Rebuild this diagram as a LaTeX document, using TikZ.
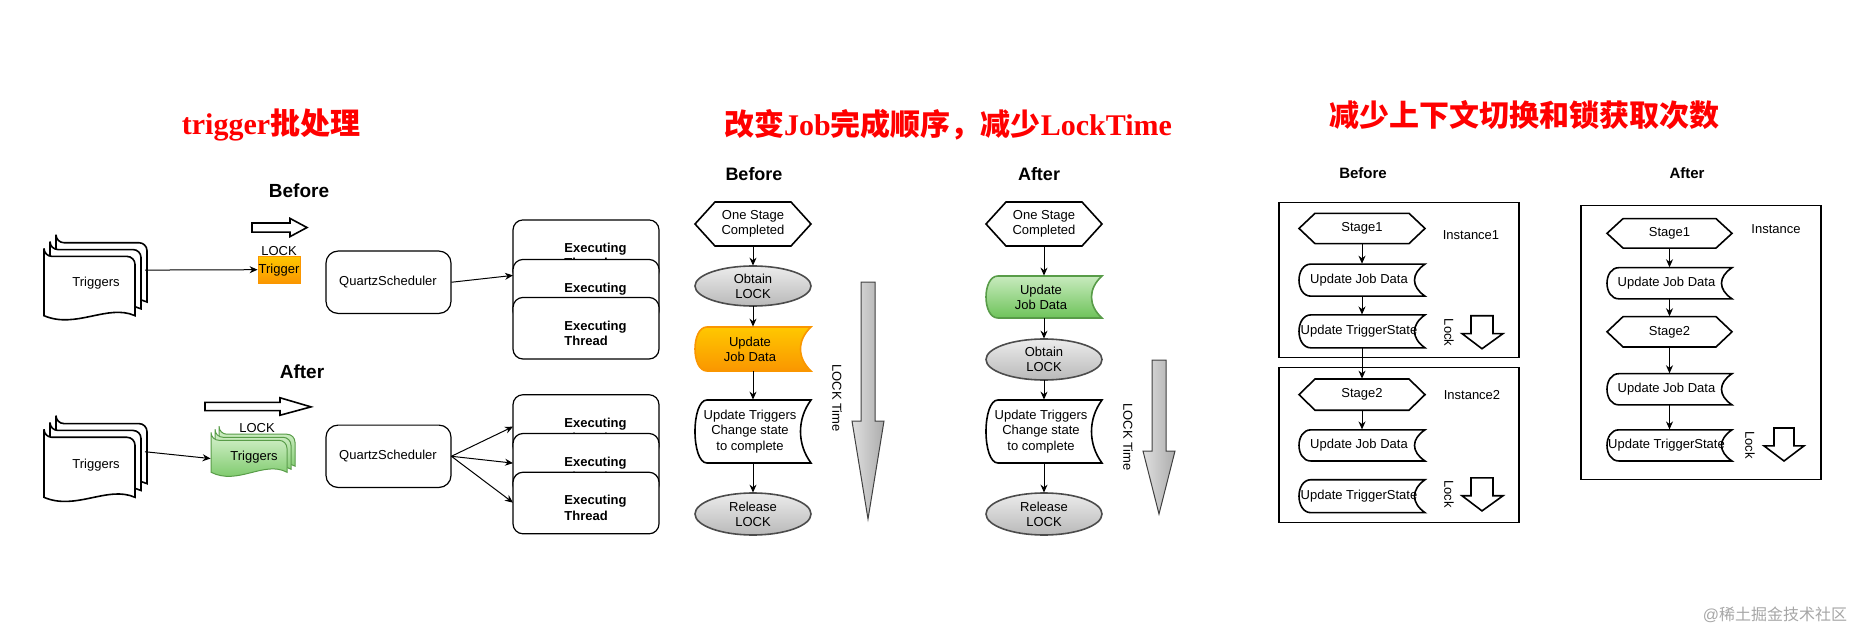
\documentclass[tikz,border=0pt]{standalone}
\usepackage{fontspec}
\setmainfont{Liberation Sans}
\newfontfamily\cjk{Noto Sans CJK SC}
\newfontfamily\ser{Liberation Serif}
\usetikzlibrary{arrows.meta}
\definecolor{orA}{RGB}{255,200,0}
\definecolor{orB}{RGB}{250,150,0}
\definecolor{grA}{RGB}{200,235,190}
\definecolor{grB}{RGB}{110,195,90}
\tikzset{
 lbl/.style={font=\fontsize{6.5}{7.6}\selectfont,align=center,inner sep=0},
 bt/.style={font=\fontsize{6.5}{7.6}\selectfont\bfseries,align=left,inner sep=0},
 conn/.style={-{Stealth[length=4pt,width=3.5pt]},line width=0.5pt},
 shp/.style={line width=0.8pt},
 grayfill/.style={top color=gray!15,bottom color=gray!55,draw=gray!60!black},
 orfill/.style={top color=orA,bottom color=orB,draw=orB},
 grfill/.style={top color=grA,bottom color=grB,draw=grB!80!black},
 hol/.style={draw,line width=0.8pt,fill=white},
 big/.style={left color=gray!25,right color=gray!65,draw=gray!50!black,line width=0.5pt},
 redt/.style={text=red,font=\fontsize{15}{17}\selectfont\bfseries,inner sep=0},
}
\def\yf{1}
% box node (invisible) for connectors
\newcommand\bx[5]{\node[minimum width={(#4-#2)*0.5pt},minimum height={(#5-#3)*\yf*0.5pt},inner sep=0] (#1) at ({(#2+#4)/2},{(#3+#5)/2}) {};}
% hexagon: name x1 y1 x2 y2 d text
\newcommand\hexa[7]{\draw[shp,fill=white] (#2,{(#3+#5)/2}) -- ({#2+#6},#3) -- ({#4-#6},#3) -- (#4,{(#3+#5)/2}) -- ({#4-#6},#5) -- ({#2+#6},#5) -- cycle;
 \bx{#1}{#2}{#3}{#4}{#5}\node[lbl] at (#1) {#7};}
% stored data: name x1 y1 x2 y2 style text
\newcommand\sdata[7]{\draw[shp,#6] ({#2+12},#3) -- (#4,#3) .. controls ({#4-14},{#3+(#5-#3)*0.3}) and ({#4-14},{#5-(#5-#3)*0.3}) .. (#4,#5) -- ({#2+12},#5) .. controls ({#2-4},#5) and ({#2-4},#3) .. ({#2+12},#3) -- cycle;
 \bx{#1}{#2}{#3}{#4}{#5}\node[lbl] at ({(#2+#4)/2-3},{(#3+#5)/2}) {#7};}
% ellipse
\newcommand\elp[6]{\draw[shp,#6] ({(#2+#4)/2},{(#3+#5)/2}) ellipse [x radius={(#4-#2)/2},y radius={(#5-#3)/2}];
 \bx{#1}{#2}{#3}{#4}{#5}}
% document stack
\newcommand\docpg[5]{\draw[shp,fill=white,#5] (#1,{#4-6}) -- (#1,{#2}) [rounded corners=4] -- (#1,#2) -- (#3,#2) [sharp corners] -- (#3,{#4-6}) .. controls ({#1+0.7*(#3-#1)},{#4-22}) and ({#1+0.35*(#3-#1)},{#4+12}) .. (#1,{#4-6}) -- cycle;}
\newcommand\exb[3]{\draw[line width=0.6pt,fill=white,rounded corners=5] (513,#2) rectangle (659,{#2+81}); \node[minimum width=73pt,minimum height={40.5pt*\yf},inner sep=0] (#1) at (586,{#2+40.5}) {};
 \node[bt,anchor=north west] at (564,{#2+30}) {#3};}
\begin{document}
\begin{tikzpicture}[x=0.5pt,y=-0.5pt]
\useasboundingbox (0,0) rectangle (1864,642);
% ---------- titles
\node[redt] at (271,125) {{\ser trigger}{\cjk 批处理}};
\node[redt] at (948,125) {{\cjk 改变}{\ser Job}{\cjk 完成顺序，减少}{\ser LockTime}};
\node[redt] at (1524,115) {\cjk 减少上下文切换和锁获取次数};
\node[text=gray!70,font=\fontsize{8}{9}\selectfont,inner sep=0] at (1775,615) {@{\cjk 稀土掘金技术社区}};
% ---------- part 1
\begin{scope}[y=-0.38pt,yshift=-18pt]
\def\yf{0.76}
\node[font=\fontsize{9.5}{11}\selectfont\bfseries,inner sep=0] at (299,204) {Before};
\draw[hol] (252,246) -- (290,246) -- (290,240) -- (307,252) -- (290,264) -- (290,258) -- (252,258) -- cycle;
\docpg{56}{272}{147}{356}{}
\docpg{50}{281}{141}{365}{}
\docpg{44}{290}{135}{374}{}
\node[lbl] at (96,325) {Triggers};
\node[lbl] at (279,283) {LOCK};
\draw[orfill,line width=0.5pt] (258,290) rectangle (300,325);
\bx{tr1}{258}{290}{300}{325}
\node[lbl] at (279,308) {Trigger};
\draw[line width=0.6pt,rounded corners=6] (326,283) rectangle (451,365);
\bx{qs1}{326}{283}{451}{365}
\node[lbl] at (388,324) {QuartzScheduler};
\exb{e1}{242}{Executing\\Thread}
\exb{e2}{294}{Executing\\Thread}
\exb{e3}{344}{Executing\\Thread}
\draw[conn] (145,308) -- (tr1.west);
\draw[conn] (qs1.east) -- (513,315);
\node[font=\fontsize{9.5}{11}\selectfont\bfseries,inner sep=0] at (302,442) {After};
\draw[hol] (205,482) -- (280,482) -- (280,476) -- (311,488) -- (280,499) -- (280,493) -- (205,493) -- cycle;
\docpg{56}{510}{147}{595}{}
\docpg{50}{519}{141}{604}{}
\docpg{44}{528}{135}{613}{}
\node[lbl] at (96,565) {Triggers};
\node[lbl] at (257,516) {LOCK};
\docpg{219}{524}{295}{572}{grfill,line width=0.5pt}
\docpg{215}{528}{291}{576}{grfill,line width=0.5pt}
\docpg{211}{532}{287}{580}{grfill,line width=0.5pt}
\bx{tr2}{211}{532}{287}{580}
\node[lbl] at (254,554) {Triggers};
\draw[line width=0.6pt,rounded corners=6] (326,512) rectangle (451,594);
\bx{qs2}{326}{512}{451}{594}
\node[lbl] at (388,553) {QuartzScheduler};
\exb{f1}{472}{Executing\\Thread}
\exb{f2}{523}{Executing\\Thread}
\exb{f3}{574}{Executing\\Thread}
\draw[conn] (145,547) -- (tr2.west);
\draw[conn] (qs2.east) -- (513,514);
\draw[conn] (qs2.east) -- (513,562);
\draw[conn] (qs2.east) -- (513,614);
\end{scope}
% ---------- part 2
\node[font=\fontsize{9}{11}\selectfont\bfseries,inner sep=0] at (754,174) {Before};
\node[font=\fontsize{9}{11}\selectfont\bfseries,inner sep=0] at (1039,174) {After};
\hexa{a1}{695}{202}{811}{246}{20}{One Stage\\Completed}
\elp{a2}{695}{266}{811}{306}{grayfill}\node[lbl] at (a2) {Obtain\\LOCK};
\sdata{a3}{695}{327}{811}{371}{orfill}{Update\\Job Data}
\sdata{a4}{695}{400}{811}{463}{fill=white}{Update Triggers\\Change state\\to complete}
\elp{a5}{695}{493}{811}{535}{grayfill}\node[lbl] at (a5) {Release\\LOCK};
\foreach \p/\q in {a1/a2,a2/a3,a3/a4,a4/a5} \draw[conn] (\p.south) -- (\q.north);
\draw[big] (861,282) -- (875,282) -- (875,421) -- (884,421) -- (868,519) -- (852,421) -- (861,421) -- cycle;
\node[lbl,rotate=-90] at (837,398) {LOCK Time};
\hexa{b1}{986}{202}{1102}{246}{20}{One Stage\\Completed}
\sdata{b2}{986}{276}{1102}{318}{grfill}{Update\\Job Data}
\elp{b3}{986}{339}{1102}{380}{grayfill}\node[lbl] at (b3) {Obtain\\LOCK};
\sdata{b4}{986}{400}{1102}{463}{fill=white}{Update Triggers\\Change state\\to complete}
\elp{b5}{986}{493}{1102}{535}{grayfill}\node[lbl] at (b5) {Release\\LOCK};
\foreach \p/\q in {b1/b2,b2/b3,b3/b4,b4/b5} \draw[conn] (\p.south) -- (\q.north);
\draw[big] (1152,360) -- (1166,360) -- (1166,451) -- (1175,451) -- (1159,514) -- (1143,451) -- (1152,451) -- cycle;
\node[lbl,rotate=-90] at (1128,437) {LOCK Time};
% ---------- part 3
\begin{scope}[y=-0.4455pt,yshift=-8.2pt]
\def\yf{0.891}
\node[font=\fontsize{7.5}{9}\selectfont\bfseries,inner sep=0] at (1363,176) {Before};
\node[font=\fontsize{7.5}{9}\selectfont\bfseries,inner sep=0] at (1687,176) {After};
\draw[line width=0.6pt] (1279,209) rectangle (1519,383);
\draw[line width=0.6pt] (1279,394) rectangle (1519,568);
\node[lbl] at (1471,245) {Instance1};
\node[lbl] at (1472,425) {Instance2};
\hexa{c1}{1299}{221}{1425}{255}{16}{Stage1}
\sdata{c2}{1299}{278}{1425}{314}{fill=white}{Update Job Data}
\sdata{c3}{1299}{335}{1425}{372}{fill=white}{Update TriggerState}
\hexa{c4}{1299}{407}{1425}{442}{16}{Stage2}
\sdata{c5}{1299}{464}{1425}{499}{fill=white}{Update Job Data}
\sdata{c6}{1299}{520}{1425}{557}{fill=white}{Update TriggerState}
\foreach \p/\q in {c1/c2,c2/c3,c3/c4,c4/c5} \draw[conn] (\p.south) -- (\q.north);
\node[lbl,rotate=-90] at (1449,355) {Lock};
\node[lbl,rotate=-90] at (1449,536) {Lock};
\foreach \y in {336,518} \draw[hol] (1471,\y) -- (1493,\y) -- (1493,{\y+20}) -- (1503,{\y+20}) -- (1482,{\y+37}) -- (1462,{\y+20}) -- (1471,{\y+20}) -- cycle;
\draw[line width=0.6pt] (1581,212) rectangle (1821,520);
\node[lbl] at (1776,239) {Instance};
\hexa{d1}{1607}{227}{1732}{260}{16}{Stage1}
\sdata{d2}{1607}{282}{1732}{317}{fill=white}{Update Job Data}
\hexa{d3}{1607}{337}{1732}{371}{16}{Stage2}
\sdata{d4}{1607}{401}{1732}{436}{fill=white}{Update Job Data}
\sdata{d5}{1607}{464}{1732}{499}{fill=white}{Update TriggerState}
\foreach \p/\q in {d1/d2,d2/d3,d3/d4,d4/d5} \draw[conn] (\p.south) -- (\q.north);
\node[lbl,rotate=-90] at (1750,481) {Lock};
\draw[hol] (1774,462) -- (1794,462) -- (1794,482) -- (1804,482) -- (1784,499) -- (1764,482) -- (1774,482) -- cycle;
\end{scope}
\end{tikzpicture}
\end{document}
